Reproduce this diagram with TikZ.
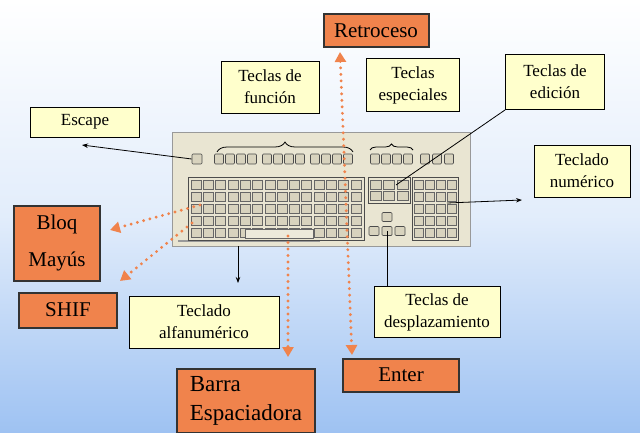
\documentclass[tikz,border=0pt]{standalone}
\usepackage{fontspec}
\newfontfamily\tms{Liberation Serif}
\usetikzlibrary{decorations.pathreplacing,arrows.meta}
\definecolor{ora}{HTML}{F0834C}
\definecolor{yel}{HTML}{FFFFCC}
\definecolor{beige}{HTML}{E9E5D2}
\definecolor{keyc}{HTML}{D8D3BE}
\definecolor{bgb}{HTML}{9EC2F2}
\begin{document}
\begin{tikzpicture}[x=1pt,y=-1pt,
  ybox/.style={draw=black,line width=0.9pt,fill=yel,align=center,font=\tms\fontsize{17}{22}\selectfont,inner sep=2pt},
  obox/.style={draw=black!80,line width=2pt,fill=ora,align=center,font=\tms\fontsize{21}{25}\selectfont,inner sep=2pt},
  dotarr/.style={ora,line width=3.2pt,dash pattern=on 0pt off 6.5pt,line cap=round,-{Triangle[length=10pt,width=11pt]}},
  thin/.style={black,line width=0.8pt,-{Stealth[length=6pt]}},
  keyb/.style={draw=black!70,fill=keyc,line width=0.7pt,rounded corners=1pt}]
\shade[top color=white,bottom color=bgb,middle color=white!70!bgb] (0,0) rectangle (640,433);
\useasboundingbox (0,0) rectangle (640,433);
% keyboard
\draw[fill=beige,draw=black!40,line width=1pt] (172,133) rectangle (470,246);
\fill[black!40] (178,240) rectangle (320,242);
% function row
\node[keyb,minimum width=10pt,minimum height=10pt] (esc) at (197,159) {};
\foreach \g in {0,1,2}{\foreach \k in {0,...,3}{\node[keyb,minimum width=9pt,minimum height=10pt] at (219+\g*48+\k*11,159) {};}}
\foreach \k in {0,...,3}{\node[keyb,minimum width=9pt,minimum height=10pt] at (375+\k*11,159) {};}
\foreach \k in {0,...,2}{\node[keyb,minimum width=9pt,minimum height=10pt] at (425+\k*12,159) {};}
% main block
\draw[draw=black!70,line width=0.9pt] (188,177) rectangle (364,240);
\foreach \r in {0,...,4}{\foreach \k in {0,...,13}{\fill[keyc,draw=black!60,line width=0.5pt] (191+\k*12.3,180+\r*12) rectangle ++(10,9);}}
\fill[beige!80!white,draw=black!60] (245,229) rectangle (313,238);
% edit
\draw[draw=black!70,line width=0.9pt] (368,177) rectangle (410,203);
\foreach \r in {0,1}{\foreach \k in {0,1,2}{\fill[keyc,draw=black!60,line width=0.5pt] (370+\k*13.5,180+\r*11.5) rectangle ++(11,9);}}
\node[keyb,minimum width=10pt,minimum height=9pt] (up) at (387,217) {};
\foreach \k in {0,1,2}{\node[keyb,minimum width=10pt,minimum height=9pt] at (374+\k*13,231) {};}
\coordinate (dn) at (387,231);
\coordinate (ed) at (396,185);
% numpad
\draw[draw=black!70,line width=0.9pt] (412,177) rectangle (458,240);
\foreach \r in {0,...,4}{\foreach \k in {0,...,3}{\fill[keyc,draw=black!60,line width=0.5pt] (414+\k*11,180+\r*12) rectangle ++(9,9);}}
\coordinate (np) at (447,203);
% braces
\draw[decorate,decoration={brace,amplitude=10pt},line width=0.8pt] (217,152) -- (353,152);
\draw[decorate,decoration={brace,amplitude=6pt},line width=0.8pt] (370,150) -- (413,150);
% boxes
\node[obox,minimum width=105pt,minimum height=33pt] (ret) at (376,31) {Retroceso};
\node[ybox,minimum width=98pt,minimum height=52pt] (fun) at (270,87) {Teclas de\\función};
\node[ybox,minimum width=93pt,minimum height=53pt] (esp) at (413,85) {Teclas\\especiales};
\node[ybox,minimum width=99pt,minimum height=55pt] (edi) at (555,82) {Teclas de\\edición};
\node[ybox,minimum width=109pt,minimum height=30pt] (escb) at (85,122) {Escape};
\node[ybox,minimum width=96pt,minimum height=52pt] (num) at (582,171) {Teclado\\numérico};
\node[obox,minimum width=86pt,minimum height=75pt] (blq) at (57,243) {Bloq\\[12pt]Mayús};
\node[obox,minimum width=98pt,minimum height=35pt] (shf) at (68,310) {SHIF};
\node[ybox,minimum width=150pt,minimum height=52pt] (alf) at (204,322) {Teclado\\alfanumérico};
\node[ybox,minimum width=126pt,minimum height=51pt] (des) at (437,312) {Teclas de\\desplazamiento};
\node[obox,minimum width=138pt,minimum height=64pt,align=left,font=\tms\fontsize{23}{29}\selectfont] (bar) at (246,401) {Barra\\Espaciadora};
\node[obox,minimum width=116pt,minimum height=33pt] (ent) at (401,375) {Enter};
% connectors
\draw[thin] (esc.west) -- (82,145);
\draw[black,line width=0.8pt] (ed) -- (edi.south west);
\draw[thin] (np) -- (522,200);
\draw[thin] (238,246) -- (238,283);
\draw[black,line width=0.8pt] (dn) -- (des.north west -| dn);
\coordinate (bq) at (200,205);
\coordinate (sh) at (192,223);
\coordinate (sp) at (288,236);
\draw[dotarr] (bq) -- (110,230);
\draw[dotarr] (sh) -- (120,281);
\draw[dotarr] (sp) -- (288,357);
\draw[dotarr,{Triangle[length=10pt,width=11pt]}-{Triangle[length=10pt,width=11pt]}] (340,52) -- (352,355);
\end{tikzpicture}
\end{document}
